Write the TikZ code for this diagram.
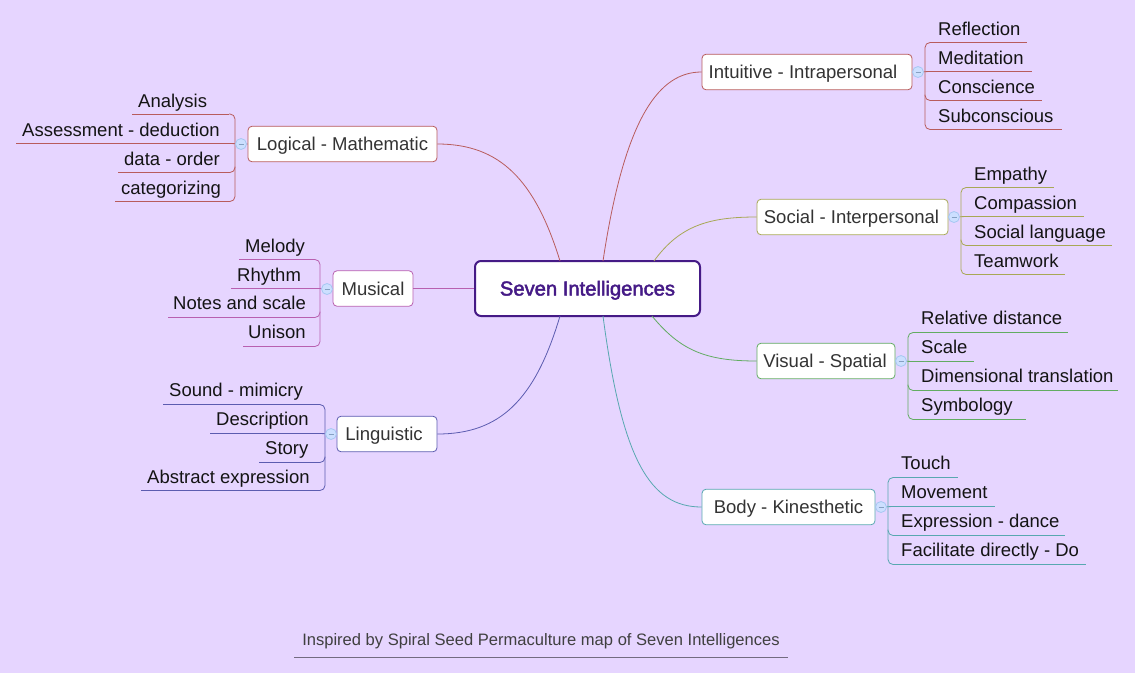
\documentclass[tikz,border=0pt]{standalone}
\usepackage{fontspec}
\usetikzlibrary{calc}
\setmainfont{Liberation Sans}
\newfontfamily\fbold[FakeBold=2.2]{Liberation Sans}
\definecolor{bg}{HTML}{E6D5FF}
\definecolor{cred}{HTML}{B85C5C}
\definecolor{colive}{HTML}{A8A855}
\definecolor{cgreen}{HTML}{62AC62}
\definecolor{cteal}{HTML}{58A8B0}
\definecolor{cblue}{HTML}{5C5CB0}
\definecolor{cmag}{HTML}{B860B0}
\definecolor{cmain}{HTML}{451A86}
\definecolor{hubf}{HTML}{CCDFFF}
\definecolor{hubd}{HTML}{A6C8F2}
\tikzset{
 x=1pt,y=-1pt,
 mainbox/.style={draw=cmain,line width=2pt,fill=white,rounded corners=6pt,minimum width=225pt,minimum height=55pt,inner sep=0pt,text=cmain,text height=15pt,text depth=1pt,font=\fbold\fontsize{20.2}{24}\selectfont},
 branch/.style={draw=#1,line width=0.8pt,fill=white,rounded corners=4pt,minimum height=35.5pt,inner sep=0pt,text=black!80,text height=14pt,text depth=1pt,font=\fontsize{18.55}{22}\selectfont},
 leaf/.style={inner sep=0pt,anchor=base west,text=black!92,font=\fontsize{18.5}{22}\selectfont},
 link/.style={draw=#1,line width=0.8pt},
 hub/.style={circle,draw=hubd,fill=hubf,line width=0.8pt,minimum size=11pt,inner sep=0pt,
   path picture={\draw[draw=hubd!80!black,line width=0.7pt] ([xshift=-2.5pt]path picture bounding box.center) -- ([xshift=2.5pt]path picture bounding box.center);}},
}
% \leafline{colour}{name}{x of text}{baseline}{line y}{line x1}{line x2}{text}
\newcommand{\leafline}[8]{%
 \node[leaf] (#2) at (#3,#4) {#8};
 \coordinate (#2a) at (#6,#5);
 \coordinate (#2b) at (#7,#5);
 \draw[link=#1] ($(#2a)!6pt!(#2b)$) -- (#2b);
}
% \brk{colour}{first leaf}{third leaf}{last leaf}
\newcommand{\brk}[4]{%
 \draw[link=#1,rounded corners=5pt] ($(#2a)!6pt!(#2b)$) -- (#2a) -- (#4a) -- ($(#4a)!6pt!(#4b)$);
 \draw[link=#1,rounded corners=5pt] ($(#3a)+(0,-6)$) -- (#3a) -- ($(#3a)!6pt!(#3b)$);
}
\begin{document}
\begin{tikzpicture}
\useasboundingbox[fill=bg] (0,0) rectangle (1135,673);
% centre
\node[mainbox] (c) at (587.5,288.5) {Seven Intelligences};
\coordinate (cLT) at (560,261);
\coordinate (cRT) at (603,261);
\coordinate (cST) at (654,261);
\coordinate (cVB) at (652,316);
\coordinate (cKB) at (603,316);
\coordinate (cLB) at (560,316);
% branches
\node[branch=cred,minimum width=210pt] (intu) at (807,72) {\hspace{-8pt}Intuitive - Intrapersonal};
\node[branch=colive,minimum width=191pt] (soc) at (852.5,217) {\hspace{-2pt}Social - Interpersonal};
\node[branch=cgreen,minimum width=138pt] (vis) at (826,361) {\hspace{-2pt}Visual - Spatial};
\node[branch=cteal,minimum width=173pt] (body) at (788.5,507) {Body - Kinesthetic};
\node[branch=cred,minimum width=189pt] (logi) at (342.5,144) {Logical - Mathematic};
\node[branch=cmag,minimum width=80pt] (mus) at (373,288.5) {Musical};
\node[branch=cblue,minimum width=100pt] (ling) at (387,434) {\hspace{-6pt}Linguistic};
% connectors from centre
\draw[link=cred] (intu.west) .. controls (660,72) and (625,115) .. (cRT);
\draw[link=colive] (soc.west) .. controls (710,217) and (680,225) .. (cST);
\draw[link=cgreen] (vis.west) .. controls (705,361) and (680,350) .. (cVB);
\draw[link=cteal] (body.west) .. controls (650,507) and (622,460) .. (cKB);
\draw[link=cred] (logi.east) .. controls (500,144) and (535,180) .. (cLT);
\draw[link=cmag] (mus.east) -- (c.west);
\draw[link=cblue] (ling.east) .. controls (500,434) and (535,400) .. (cLB);
% intuitive
\leafline{cred}{a1}{938}{35.5}{42.5}{925}{1027}{Reflection}
\leafline{cred}{a2}{938}{64.5}{71.5}{925}{1032}{Meditation}
\leafline{cred}{a3}{938}{93}{100.5}{925}{1042}{Conscience}
\leafline{cred}{a4}{938}{122}{129.5}{925}{1062}{Subconscious}
\brk{cred}{a1}{a3}{a4}
\draw[link=cred] (intu.east) -- ($(a2a)!6pt!(a2b)$);
\node[hub] (h1) at (918,72) {};
% social
\leafline{colive}{b1}{974}{180.5}{187.5}{961}{1054}{Empathy}
\leafline{colive}{b2}{974}{209.5}{216.5}{961}{1084}{Compassion}
\leafline{colive}{b3}{974}{238}{245.5}{961}{1112}{Social language}
\leafline{colive}{b4}{974}{267}{274.5}{961}{1065}{Teamwork}
\brk{colive}{b1}{b3}{b4}
\draw[link=colive] (soc.east) -- ($(b2a)!6pt!(b2b)$);
\node[hub] (h2) at (954,217) {};
% visual
\leafline{cgreen}{d1}{921}{324}{332.5}{908}{1068}{Relative distance}
\leafline{cgreen}{d2}{921}{353}{361.5}{908}{974}{Scale}
\leafline{cgreen}{d3}{921}{382}{390.5}{908}{1118}{Dimensional translation}
\leafline{cgreen}{d4}{921}{411}{419.5}{908}{1026}{Symbology}
\brk{cgreen}{d1}{d3}{d4}
\draw[link=cgreen] (vis.east) -- ($(d2a)!6pt!(d2b)$);
\node[hub] (h3) at (901,361) {};
% body
\leafline{cteal}{e1}{901}{469}{477.5}{888}{958}{Touch}
\leafline{cteal}{e2}{901}{498}{506.5}{888}{995}{Movement}
\leafline{cteal}{e3}{901}{527}{535.5}{888}{1065}{Expression - dance}
\leafline{cteal}{e4}{901}{556}{564.5}{888}{1086}{Facilitate directly - Do}
\brk{cteal}{e1}{e3}{e4}
\draw[link=cteal] (body.east) -- ($(e2a)!6pt!(e2b)$);
\node[hub] (h4) at (881,507) {};
% logical
\leafline{cred}{f1}{138}{107}{114}{235}{132}{Analysis}
\leafline{cred}{f2}{22}{136}{143.5}{235}{16}{Assessment - deduction}
\leafline{cred}{f3}{124}{165}{172.5}{235}{118}{data - order}
\leafline{cred}{f4}{121}{194}{201.5}{235}{115}{categorizing}
\brk{cred}{f1}{f3}{f4}
\draw[link=cred] (logi.west) -- ($(f2a)!6pt!(f2b)$);
\node[hub] (h5) at (241,144) {};
% musical
\leafline{cmag}{g1}{245}{252}{259.5}{320}{239}{Melody}
\leafline{cmag}{g2}{237}{281}{288.5}{320}{231}{Rhythm}
\leafline{cmag}{g3}{173}{309}{317.5}{320}{168}{Notes and scale}
\leafline{cmag}{g4}{248}{338}{346.5}{320}{243}{Unison}
\brk{cmag}{g1}{g3}{g4}
\draw[link=cmag] (mus.west) -- ($(g2a)!6pt!(g2b)$);
\node[hub] (h6) at (327,289) {};
% linguistic
\leafline{cblue}{k1}{169}{396}{404.5}{325}{163}{Sound - mimicry}
\leafline{cblue}{k2}{216}{425}{433.5}{325}{210}{Description}
\leafline{cblue}{k3}{265}{454}{462.5}{325}{259}{Story}
\leafline{cblue}{k4}{147}{483}{490.5}{325}{141}{Abstract expression}
\brk{cblue}{k1}{k3}{k4}
\draw[link=cblue] (ling.west) -- ($(k2a)!6pt!(k2b)$);
\node[hub] (h7) at (331,434) {};
% footer
\node[inner sep=0pt,anchor=base,text=black!75,font=\fontsize{16.55}{20}\selectfont] (foot) at (541,645.5) {Inspired by Spiral Seed Permaculture map of Seven Intelligences};
\coordinate (fa) at (294,657.5);
\coordinate (fb) at (788,657.5);
\draw[draw=black!50!bg,line width=0.8pt] (fa) -- (fb);
\end{tikzpicture}
\end{document}
